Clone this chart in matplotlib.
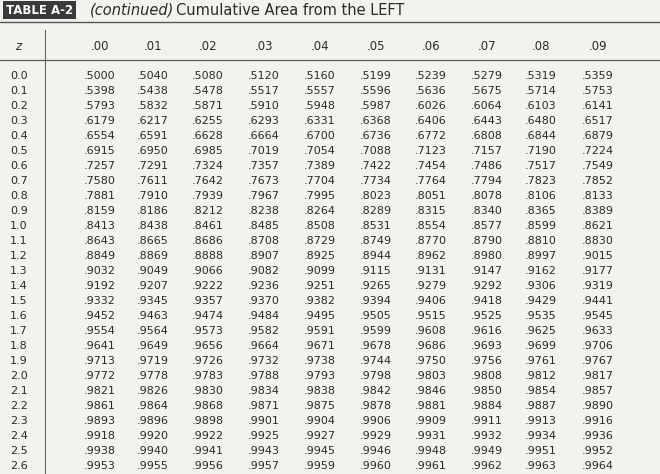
import matplotlib.pyplot as plt

plt.rcParams['font.family'] = ['DejaVu Sans']

z_values = ['0.0', '0.1', '0.2', '0.3', '0.4', '0.5', '0.6', '0.7', '0.8', '0.9',
            '1.0', '1.1', '1.2', '1.3', '1.4', '1.5', '1.6', '1.7', '1.8', '1.9',
            '2.0', '2.1', '2.2', '2.3', '2.4', '2.5', '2.6']
col_labels = ['.00', '.01', '.02', '.03', '.04', '.05', '.06', '.07', '.08', '.09']
areas = [
    ['.5000', '.5040', '.5080', '.5120', '.5160', '.5199', '.5239', '.5279', '.5319', '.5359'],
    ['.5398', '.5438', '.5478', '.5517', '.5557', '.5596', '.5636', '.5675', '.5714', '.5753'],
    ['.5793', '.5832', '.5871', '.5910', '.5948', '.5987', '.6026', '.6064', '.6103', '.6141'],
    ['.6179', '.6217', '.6255', '.6293', '.6331', '.6368', '.6406', '.6443', '.6480', '.6517'],
    ['.6554', '.6591', '.6628', '.6664', '.6700', '.6736', '.6772', '.6808', '.6844', '.6879'],
    ['.6915', '.6950', '.6985', '.7019', '.7054', '.7088', '.7123', '.7157', '.7190', '.7224'],
    ['.7257', '.7291', '.7324', '.7357', '.7389', '.7422', '.7454', '.7486', '.7517', '.7549'],
    ['.7580', '.7611', '.7642', '.7673', '.7704', '.7734', '.7764', '.7794', '.7823', '.7852'],
    ['.7881', '.7910', '.7939', '.7967', '.7995', '.8023', '.8051', '.8078', '.8106', '.8133'],
    ['.8159', '.8186', '.8212', '.8238', '.8264', '.8289', '.8315', '.8340', '.8365', '.8389'],
    ['.8413', '.8438', '.8461', '.8485', '.8508', '.8531', '.8554', '.8577', '.8599', '.8621'],
    ['.8643', '.8665', '.8686', '.8708', '.8729', '.8749', '.8770', '.8790', '.8810', '.8830'],
    ['.8849', '.8869', '.8888', '.8907', '.8925', '.8944', '.8962', '.8980', '.8997', '.9015'],
    ['.9032', '.9049', '.9066', '.9082', '.9099', '.9115', '.9131', '.9147', '.9162', '.9177'],
    ['.9192', '.9207', '.9222', '.9236', '.9251', '.9265', '.9279', '.9292', '.9306', '.9319'],
    ['.9332', '.9345', '.9357', '.9370', '.9382', '.9394', '.9406', '.9418', '.9429', '.9441'],
    ['.9452', '.9463', '.9474', '.9484', '.9495', '.9505', '.9515', '.9525', '.9535', '.9545'],
    ['.9554', '.9564', '.9573', '.9582', '.9591', '.9599', '.9608', '.9616', '.9625', '.9633'],
    ['.9641', '.9649', '.9656', '.9664', '.9671', '.9678', '.9686', '.9693', '.9699', '.9706'],
    ['.9713', '.9719', '.9726', '.9732', '.9738', '.9744', '.9750', '.9756', '.9761', '.9767'],
    ['.9772', '.9778', '.9783', '.9788', '.9793', '.9798', '.9803', '.9808', '.9812', '.9817'],
    ['.9821', '.9826', '.9830', '.9834', '.9838', '.9842', '.9846', '.9850', '.9854', '.9857'],
    ['.9861', '.9864', '.9868', '.9871', '.9875', '.9878', '.9881', '.9884', '.9887', '.9890'],
    ['.9893', '.9896', '.9898', '.9901', '.9904', '.9906', '.9909', '.9911', '.9913', '.9916'],
    ['.9918', '.9920', '.9922', '.9925', '.9927', '.9929', '.9931', '.9932', '.9934', '.9936'],
    ['.9938', '.9940', '.9941', '.9943', '.9945', '.9946', '.9948', '.9949', '.9951', '.9952'],
    ['.9953', '.9955', '.9956', '.9957', '.9959', '.9960', '.9961', '.9962', '.9963', '.9964'],
]

fig = plt.figure(figsize=(6.6, 4.74), dpi=100)
fig.patch.set_facecolor('#f4f2ee')
ax = fig.add_axes([0, 0, 1, 1])
ax.set_xlim(0, 660)
ax.set_ylim(474, 0)
ax.axis('off')

col_x = [100, 153, 208, 264, 320, 376, 431, 487, 541, 598]
txt = '#2a2a2a'

# title bar
ax.text(6, 10, 'TABLE A-2', color='white', fontsize=8.5, fontweight='bold', va='center',
        bbox=dict(boxstyle='square,pad=0.25', fc='#3a3a3a', ec='none'))
ax.text(90, 10, '(continued)', color=txt, fontsize=10.5, style='italic', va='center')
ax.text(176, 10, 'Cumulative Area from the LEFT', color=txt, fontsize=10.5, va='center')
ax.plot([0, 660], [22, 22], color='#555555', lw=1)

# header
ax.text(18, 46, 'z', color=txt, fontsize=8.5, style='italic', ha='center', va='center')
for x, lab in zip(col_x, col_labels):
    ax.text(x, 46, lab, color=txt, fontsize=8.5, ha='center', va='center')
ax.plot([0, 660], [60, 60], color='#555555', lw=0.9)
ax.plot([45, 45], [30, 474], color='#666666', lw=0.8)

# rows
for i, (z, row) in enumerate(zip(z_values, areas)):
    y = 76 + i * 15
    ax.text(10, y, z, color=txt, fontsize=8, va='center')
    for x, v in zip(col_x, row):
        ax.text(x, y, v, color=txt, fontsize=8, ha='center', va='center')

fig.savefig('out.png', dpi=100, facecolor=fig.get_facecolor())
